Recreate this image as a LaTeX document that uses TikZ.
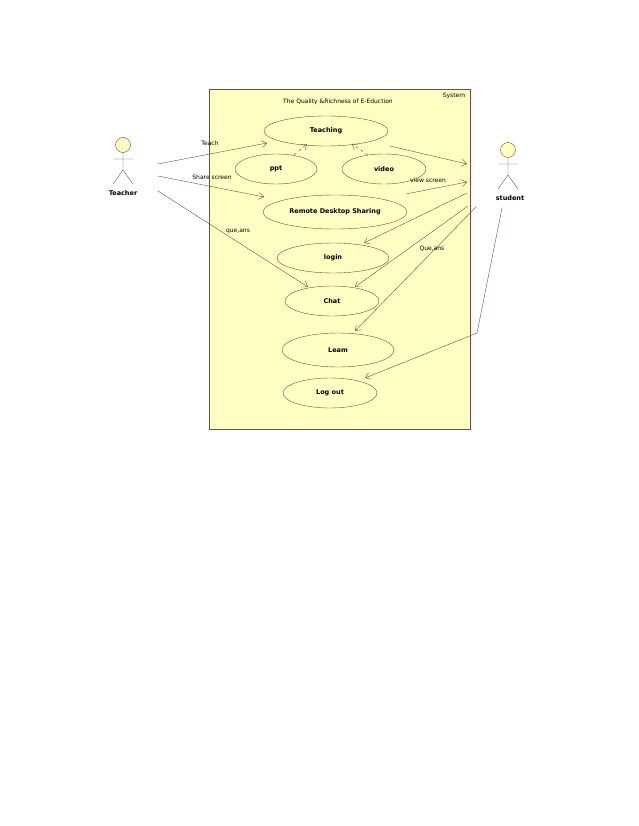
\documentclass[tikz,border=0pt]{standalone}
\usepackage{fontspec}
\setmainfont{DejaVu Sans}
\usetikzlibrary{arrows.meta}
\definecolor{ln}{HTML}{7A4A3A}
\definecolor{fl}{HTML}{FFFFC4}
\tikzset{
 uc/.style={font=\fontsize{6.5}{7}\selectfont\bfseries},
 ucshape/.style={draw=ln,fill=fl},
 lab/.style={font=\fontsize{6}{7}\selectfont,inner sep=0pt},
 arr/.style={draw=ln,-{Straight Barb[length=5pt,width=7pt]}},
 dep/.style={arr,dashed},
}
\begin{document}
\begin{tikzpicture}[x=1pt,y=-1pt]
\useasboundingbox (0,0) rectangle (638,826);
\draw[ln,fill=fl] (209,89) rectangle (470,429);
\node[lab] (sys) at (454,96) {System};
\node[lab] (title) at (338,102) {The Quality \&Richness of E-Eduction};
\draw[ucshape] (326,131) ellipse (62 and 15); \node[uc] (teach) at (326,131) {Teaching};
\draw[ucshape] (276,169) ellipse (41 and 15); \node[uc] (ppt) at (276,169) {ppt};
\draw[ucshape] (384,169) ellipse (42 and 15); \node[uc] (video) at (384,169) {video};
\draw[ucshape] (335,212) ellipse (72 and 17); \node[uc] (rds) at (335,212) {Remote Desktop Sharing};
\draw[ucshape] (333,258) ellipse (56 and 15); \node[uc] (login) at (333,258) {login};
\draw[ucshape] (332,301) ellipse (47 and 15); \node[uc] (chat) at (332,301) {Chat};
\draw[ucshape] (338,350) ellipse (56 and 17); \node[uc] (learn) at (338,350) {Leam};
\draw[ucshape] (330,393) ellipse (47 and 15); \node[uc] (logout) at (330,393) {Log out};
% actors
\draw[ln,fill=fl] (123,145) circle (7.5);
\draw[ln] (123,152.5) -- (123,170) (113,159) -- (133,159) (113,184) -- (123,170) -- (133,184);
\node[uc] (teacher) at (123,193) {Teacher};
\draw[ln,fill=fl] (508,150) circle (7.5);
\draw[ln] (508,157.5) -- (508,175) (498,164) -- (518,164) (498,189) -- (508,175) -- (518,189);
\node[uc] (student) at (510,198) {student};
% coordinates
\coordinate (t1) at (158,164); \coordinate (t2) at (158,176); \coordinate (t3) at (158,191);
\coordinate (teachE) at (267,143); \coordinate (rdsE) at (264,197); \coordinate (chatE1) at (308,287);
\coordinate (teachS) at (390,146); \coordinate (s1) at (467,164);
\coordinate (rdsS) at (406,194); \coordinate (s2) at (467,182);
\coordinate (s3) at (467,193); \coordinate (loginE) at (364,243);
\coordinate (s4) at (468,206); \coordinate (chatE2) at (355,287);
\coordinate (s5) at (476,207); \coordinate (learnE) at (355,331);
\coordinate (s6) at (502,208); \coordinate (bend) at (477,333); \coordinate (logoutE) at (365,378);
\draw[arr] (t1) -- (teachE);
\draw[arr] (t2) -- (rdsE);
\draw[arr] (t3) -- (chatE1);
\draw[arr] (teachS) -- (s1);
\draw[arr] (rdsS) -- (s2);
\draw[arr] (s3) -- (loginE);
\draw[arr] (s4) -- (chatE2);
\draw[arr] (s5) -- (learnE);
\draw[arr] (s6) -- (bend) -- (logoutE);
\draw[dep] (294,155) -- (307,144);
\draw[dep] (368,155) -- (352,144);
\node[lab] (l1) at (210,143) {Teach};
\node[lab] (l2) at (212,177) {Share screen};
\node[lab] (l3) at (238,231) {que,ans};
\node[lab] (l4) at (428,180) {view screen};
\node[lab] (l5) at (432,249) {Que,ans};
\end{tikzpicture}
\end{document}
